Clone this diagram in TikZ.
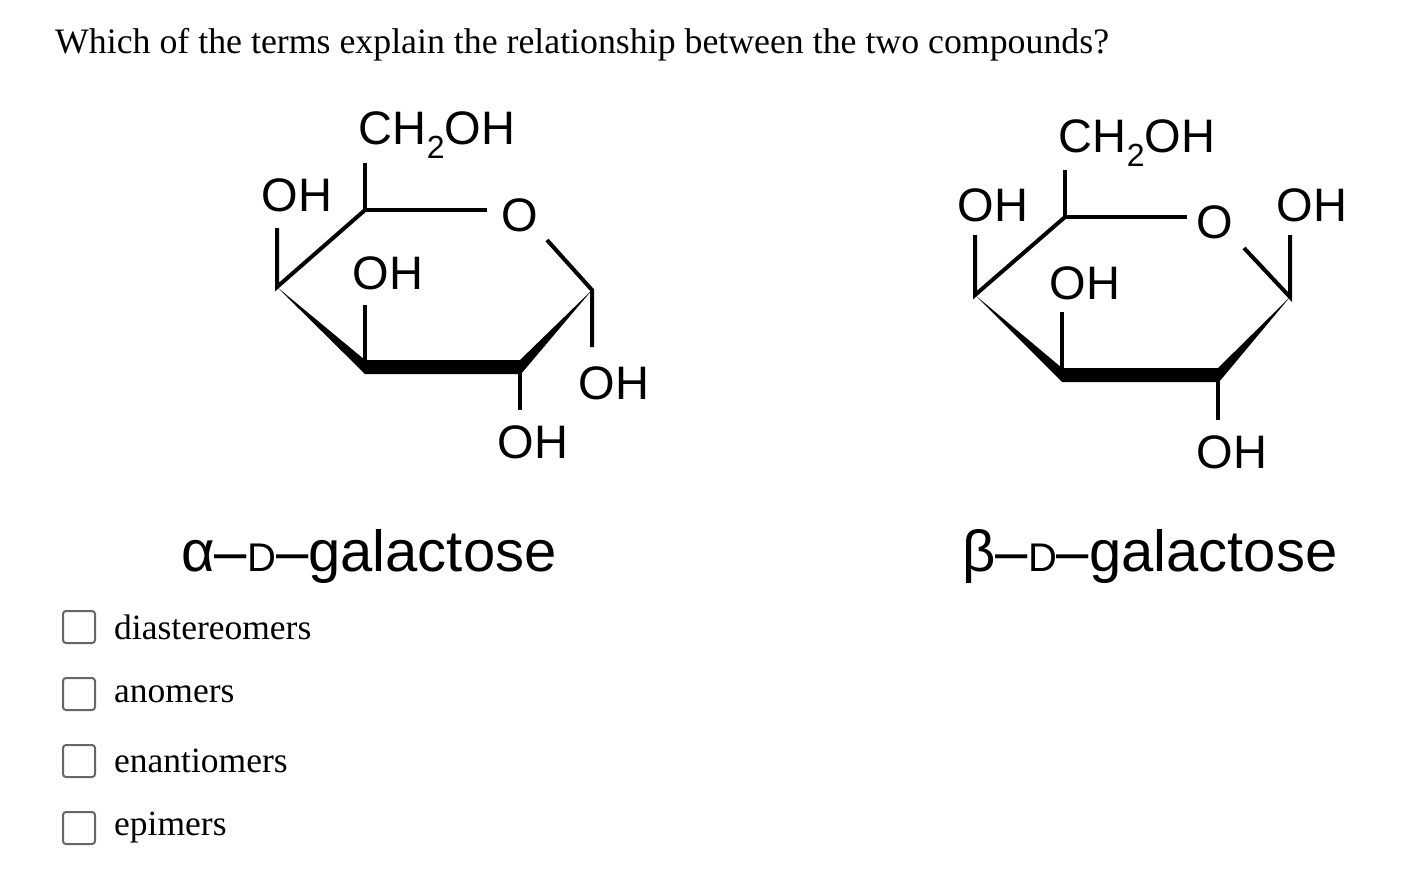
\documentclass[tikz,border=0pt]{standalone}
\usepackage{fontspec}
\setmainfont{Liberation Serif}
\newfontfamily\arial{Liberation Sans}
\newcommand{\subtwo}{\raisebox{-0.3em}{\fontsize{32}{32}\selectfont 2}}
\begin{document}
\begin{tikzpicture}[x=1pt,y=-1pt,
  lab/.style={font=\arial\fontsize{47}{47}\selectfont, inner sep=0pt},
  bond/.style={line width=4pt},
  choice/.style={font=\fontsize{35.5}{35.5}\selectfont, anchor=west, inner sep=0pt},
  box/.style={draw=gray!80!black, line width=2pt, rounded corners=3pt, minimum size=32pt, inner sep=0pt}]
\useasboundingbox (0,0) rectangle (1415,884);
\node[font=\fontsize{35.8}{35.8}\selectfont, anchor=west, inner sep=0pt] (title) at (55,45) {Which of the terms explain the relationship between the two compounds?};
% left molecule
\begin{scope}
\coordinate (a5) at (365,210); \coordinate (a4) at (277,287); \coordinate (a3) at (365,367);
\coordinate (a2) at (520,367); \coordinate (a1) at (592,290);
\node[lab] (aO) at (520,215) {O};
\node[lab] (ach) at (437,135) {CH\subtwo OH};
\node[lab] (aoh5) at (297,195) {OH};
\node[lab] (aoh3) at (388,273) {OH};
\node[lab] (aoh2) at (533,442) {OH};
\node[lab] (aoh1) at (614,383) {OH};
\draw[bond] (365,163) -- (a5) -- (487,210);
\draw[bond] (a5) -- (a4) -- (277,228);
\draw[bond] (547,240) -- (a1) -- (592,347);
\draw[bond] (a3) -- (365,305);
\draw[bond] (a2) -- (520,410);
\fill (a4) -- (365,360) -- (520,360) -- (a1) -- (521,374) -- (365,374) -- cycle;
\end{scope}
% right molecule
\begin{scope}
\coordinate (b5) at (1065,217); \coordinate (b4) at (975,295); \coordinate (b3) at (1062,375);
\coordinate (b2) at (1218,375); \coordinate (b1) at (1290,297);
\node[lab] (bO) at (1215,222) {O};
\node[lab] (bch) at (1137,143) {CH\subtwo OH};
\node[lab] (boh5) at (993,205) {OH};
\node[lab] (boh3) at (1085,283) {OH};
\node[lab] (boh2) at (1232,452) {OH};
\node[lab] (boh1) at (1312,205) {OH};
\draw[bond] (1065,170) -- (b5) -- (1187,217);
\draw[bond] (b5) -- (b4) -- (975,235);
\draw[bond] (1244,248) -- (b1) -- (1290,235);
\draw[bond] (b3) -- (1062,312);
\draw[bond] (b2) -- (1218,420);
\fill (b4) -- (1062,368) -- (1218,368) -- (b1) -- (1219,382) -- (1062,382) -- cycle;
\end{scope}
\node[font=\arial\fontsize{58}{58}\selectfont, inner sep=0pt] (na) at (369,556) {α–{\fontsize{40}{40}\selectfont D}–galactose};
\node[font=\arial\fontsize{58}{58}\selectfont, inner sep=0pt] (nb) at (1150,556) {β–{\fontsize{40}{40}\selectfont D}–galactose};
\foreach \y/\t [count=\i] in {627/diastereomers,694/anomers,761/enantiomers,828/epimers}{
  \node[box] (cb\i) at (79,\y) {};
  \node[choice] (ct\i) at (114,\y) {\t};
}
\end{tikzpicture}
\end{document}
